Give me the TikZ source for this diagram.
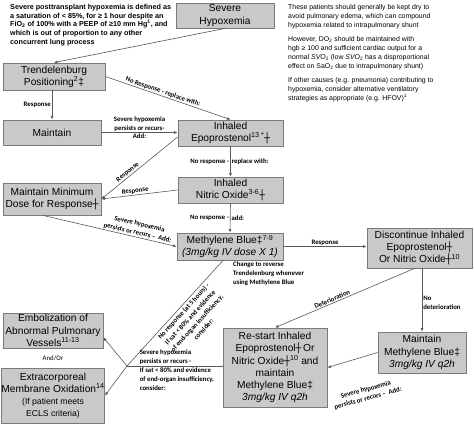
\documentclass[tikz,border=0pt]{standalone}
\usepackage{fontspec}
\setmainfont{Liberation Sans}
\newfontfamily\notefont{Carlito}
\newfontfamily\symfont{DejaVu Sans}
\usepackage{tikz}
\usetikzlibrary{arrows.meta,positioning,calc}
\definecolor{BoxGray}{HTML}{C9C9C9}
\definecolor{BoxEdge}{HTML}{7A7A7A}
\definecolor{LineGray}{HTML}{595959}
\newcommand{\cross}{{\symfont\fontsize{9.4}{11}\selectfont ┼}}

\begin{document}
\begin{tikzpicture}[
  x=1pt, y=-1pt,
  box/.style={draw=BoxEdge,fill=BoxGray,line width=0.8pt,align=center,inner sep=0pt,font=\fontsize{10.2}{12.2}\selectfont},
  lbl/.style={font=\notefont\bfseries\fontsize{6.8}{9}\selectfont,inner sep=1pt,align=center},
  textblock/.style={anchor=north west,align=left,inner sep=0pt},
  arrow/.style={-{Latex[length=3.5pt,width=3pt]},draw=LineGray,line width=0.6pt},
  link/.style={draw=LineGray,line width=0.6pt}
]
  \useasboundingbox (0,0) rectangle (474,424);

  \node[textblock,font=\bfseries\fontsize{7.2}{8.7}\selectfont] (defn) at (10,4)
    {Severe posttransplant hypoxemia is defined as\\a saturation of < 85\%, for ≥ 1 hour despite an\\FiO\textsubscript{2} of 100\% with a PEEP of ≥10 mm Hg\textsuperscript{1}, and\\which is out of proportion to any other\\concurrent lung process};
  \node[textblock,font=\fontsize{6.9}{9}\selectfont] (advice) at (288,4)
    {These patients should generally be kept dry to\\avoid pulmonary edema, which can compound\\hypoxemia related to intrapulmonary shunt\\[5pt]However, DO\textsubscript{2} should be maintained with\\hgb ≥ 100 and sufficient cardiac output for a\\normal \textit{SVO}\textsubscript{2} (low \textit{SVO}\textsubscript{2} has a disproportional\\effect on SaO\textsubscript{2} due to intrapulmonary shunt)\\[5pt]If other causes (e.g. pneumonia) contributing to\\hypoxemia, consider alternative ventilatory\\strategies as appropriate (e.g. HFOV)\textsuperscript{1}};

  \node[box,minimum width=98pt,minimum height=25pt] (hypox) at (225,15.5) {Severe\\Hypoxemia};
  \node[box,minimum width=102pt,minimum height=27pt] (trend) at (54,76.5) {Trendelenburg\\Positioning\textsuperscript{2}‡};
  \node[box,minimum width=98pt,minimum height=25pt] (maint) at (52,132.5) {Maintain};
  \node[box,minimum width=105pt,minimum height=26pt] (epo) at (230.5,133) {Inhaled\\Epoprostenol\textsuperscript{13 *}\cross};
  \node[box,minimum width=105pt,minimum height=26pt] (nitric) at (230.5,190) {Inhaled\\Nitric Oxide\textsuperscript{3-6}\cross};
  \node[box,minimum width=98pt,minimum height=32pt] (mindose) at (52,199) {Maintain Minimum\\Dose for Response\cross};
  \node[box,minimum width=106pt,minimum height=27pt] (mblue) at (230,246.5) {Methylene Blue‡\textsuperscript{7-9}\\\textit{(3mg/kg IV dose X 1)}};
  \node[box,minimum width=105pt,minimum height=40pt] (discont) at (419.5,248) {Discontinue Inhaled\\Epoprostenol\cross\\Or Nitric Oxide\cross\textsuperscript{10}};
  \node[box,minimum width=104pt,minimum height=79pt] (restart) at (275,367.5) {Re-start Inhaled\\Epoprostenol\cross\,Or\\Nitric Oxide\cross\textsuperscript{10} and\\maintain\\Methylene Blue‡\\\textit{3mg/kg IV q2h}};
  \node[box,minimum width=88pt,minimum height=41pt] (mmb) at (422,352.5) {Maintain\\Methylene Blue‡\\\textit{3mg/kg IV q2h}};
  \node[box,minimum width=100pt,minimum height=35pt] (emb) at (53,330.5) {Embolization of\\Abnormal Pulmonary\\Vessels\textsuperscript{11-13}};
  \node[box,minimum width=100pt,minimum height=55pt] (ecmo) at (53,395.5) {Extracorporeal\\Membrane Oxidation\textsuperscript{14}\\{\fontsize{8.6}{10.5}\selectfont (If patient meets}\\{\fontsize{8.6}{10.5}\selectfont ECLS criteria)}};
  \node[lbl,font=\notefont\fontsize{6.8}{9}\selectfont] (andor) at (53,358) {And/Or};
  \node[lbl,align=left,anchor=north west] (revnote) at (232,261) {Change to reverse\\Trendelenburg whenever\\using Methylene Blue};
  \node[lbl,rotate=15] (sevlbl) at (367,394) {Severe hypoxemia\\persists or recurs – \ Add:};
  \coordinate (branch) at (127,366);

  \draw[arrow] (hypox.south) -- (trend.north);
  \draw[arrow] (trend.south -| maint.north) -- (maint.north) node[lbl,left,midway] {Response};
  \draw[arrow] (trend.east) -- (epo.north) node[lbl,sloped,above,pos=0.45] {No Response - replace with:};
  \draw[arrow] (maint.east) -- (maint.east -| epo.west)
    node[lbl,above,midway] {Severe hypoxemia\\persists or recurs-} node[lbl,below,midway] {Add:};
  \draw[arrow] (epo.south) -- (nitric.north) node[lbl,left,midway] {No response -} node[lbl,right,midway] {replace with:};
  \draw[arrow] ([yshift=-4pt]epo.west) -- (mindose.east) node[lbl,sloped,above,pos=0.62] {Response};
  \draw[arrow] (nitric.west) -- (mindose.east) node[lbl,sloped,above,pos=0.55] {Response};
  \draw[arrow] (nitric.south) -- (mblue.north) node[lbl,left,midway] {No response -} node[lbl,right,midway] {add:};
  \draw[arrow] ([xshift=-9pt]mindose.south) -- (mblue.west) node[lbl,sloped,above,pos=0.7] {Severe hypoxemia\\persists or recurs – \ Add:};
  \draw[arrow] (mblue.east) -- (mblue.east -| discont.west) node[lbl,above,midway] {Response};
  \draw[arrow] ([xshift=-5pt]discont.south) -- (restart.north) node[lbl,sloped,above,pos=0.58] {Deterioration};
  \draw[arrow] (mmb.north |- discont.south) -- (mmb.north) node[lbl,right,align=left,pos=0.55] {No\\deterioration};
  \draw[arrow] (mmb.west) -- (restart.east);
  \draw[link] (branch) -- ([xshift=-7pt]mblue.south)
    node[lbl,sloped,below=1pt,pos=0.55] {No response (at 5 hours) -\\If sat < 80\% and evidence\\of end-organ insufficiency,\\consider:};
  \draw[link] (branch) -- (branch -| restart.west)
    node[lbl,anchor=south west,align=left,pos=0.12] {Severe hypoxemia\\persists or recurs -}
    node[lbl,anchor=north west,align=left,pos=0.12] {If sat < 80\% and evidence\\of end-organ insufficiency,\\consider:};
  \draw[arrow] (branch) -- ([yshift=-7pt]emb.east);
  \draw[arrow] (branch) -- (ecmo.east);
\end{tikzpicture}
\end{document}
